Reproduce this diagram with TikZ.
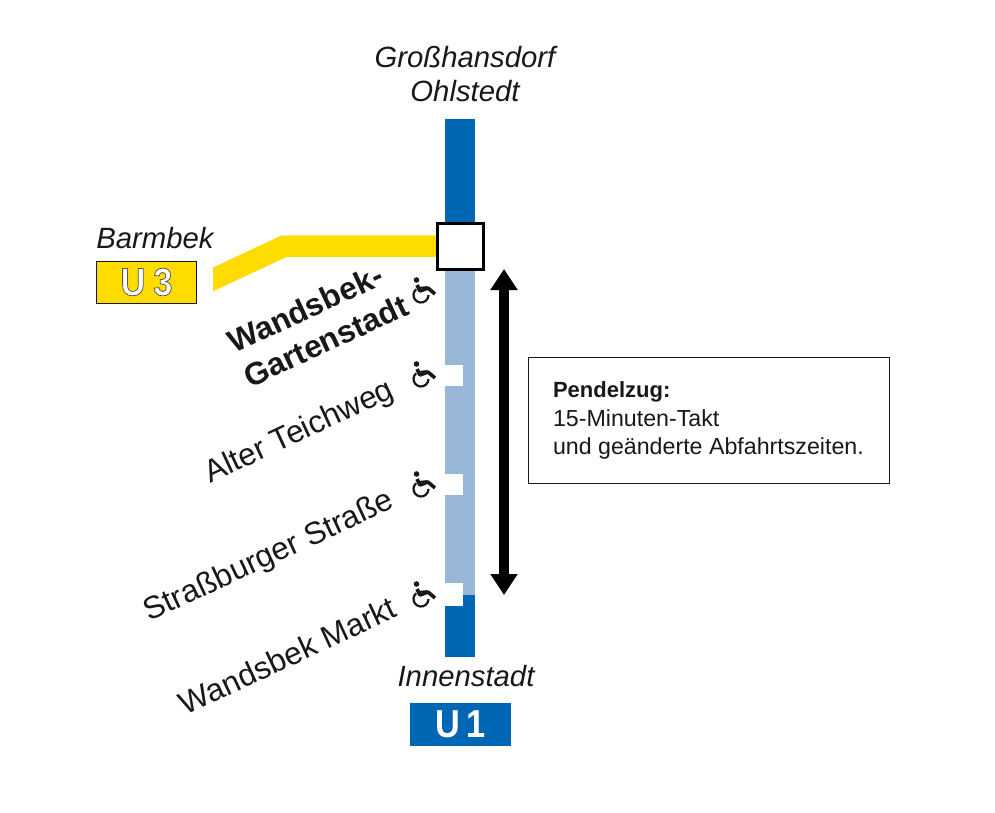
\documentclass[tikz,border=0pt]{standalone}
\usepackage{fontspec}
\usetikzlibrary{arrows.meta}
\setmainfont{Liberation Sans}
\definecolor{hvvblue}{RGB}{0,103,180}
\definecolor{palevblue}{RGB}{152,183,215}
\definecolor{hvvyellow}{RGB}{255,220,0}
\definecolor{inkblack}{RGB}{26,23,27}
\tikzset{
  wheelchair/.pic = {
    \fill[inkblack] (-8.5,-10) circle[radius=2.8];
    \draw[inkblack, line width=3.6pt, line join=round] (-8,-5) -- (-5,1) -- (3,-2) -- (10,4);
    \draw[inkblack, line width=1.8pt] (-7,-2) -- (2,-3);
    \draw[inkblack, line width=2.2pt] (-4,5) ++(230:7.5) arc[start angle=230, end angle=0, radius=7.5];
  }
}
\begin{document}
\begin{tikzpicture}[x=1pt, y=-1pt,
  terminus/.style = {font=\fontsize{29.3}{34}\selectfont\itshape, text=inkblack, align=center, inner sep=0pt},
  stationname/.style = {font=\fontsize{31.5}{38}\selectfont, text=inkblack, rotate=25, anchor=base east, inner sep=0pt, align=left},
  linebadge/.style = {font=\fontsize{39}{39}\selectfont\bfseries\addfontfeature{FakeStretch=0.88}, text=white, minimum height=43pt, inner sep=0pt}]
  \useasboundingbox (0,0) rectangle (995,812);
  % line bands
  \fill[hvvblue] (445,119) rectangle (475,657);
  \fill[palevblue] (445,246) rectangle (475,595);
  \fill[white] (445,365) rectangle (463,386);
  \fill[white] (445,474) rectangle (463,495);
  \fill[white] (445,583) rectangle (463,606);
  % U3 branch
  \coordinate (u3end) at (170,299.5);
  \coordinate (u3bend) at (284.5,246);
  \coordinate (u3join) at (460.5,246);
  \begin{scope}
    \clip (213,200) rectangle (500,320);
    \draw[hvvyellow, line width=21.5pt, miter limit=10] (u3end) -- (u3bend) -- (u3join);
  \end{scope}
  \node[draw=black, line width=3pt, fill=white, minimum size=46pt, inner sep=0pt] (interchange) at (460.5,246.5) {};
  % termini
  \node[terminus] (north) at (465,74) {Großhansdorf\\Ohlstedt};
  \node[terminus] (barmbek) at (155,238) {Barmbek};
  \node[terminus] (city) at (466,676) {Innenstadt};
  \node[linebadge, draw=inkblack, line width=0.8pt, fill=hvvyellow, minimum width=100pt, minimum height=42pt] (u3) at (146.5,282)
    {\addfontfeature{FakeBold=2}\special{pdf:code 0.35 0.35 0.3 RG}U\hspace{8pt}3};
  \node[linebadge, fill=hvvblue, minimum width=101pt] (u1) at (460.5,724.5) {U\hspace{6pt}1};
  % stations
  \node[stationname, anchor=south east, font=\fontsize{31.5}{38}\selectfont\bfseries] (st1) at (411,314) {Wandsbek-\\Gartenstadt};
  \node[stationname] (st2) at (396,397) {Alter Teichweg};
  \node[stationname] (st3) at (396,507) {Straßburger Straße};
  \node[stationname] (st4) at (399,616) {Wandsbek Markt};
  \foreach \y in {290,374,484,594}
    \pic at (425,\y) {wheelchair};
  % shuttle arrow and note
  \coordinate (arrowtop) at (504,269);
  \coordinate (arrowbottom) at (504,595);
  \draw[line width=10pt, black, {Triangle[length=21pt,width=26pt]}-{Triangle[length=21pt,width=26pt]}] (arrowtop) -- (arrowbottom);
  \node[draw=inkblack, line width=0.8pt, minimum width=361pt, minimum height=126pt, text width=312pt, inner sep=0pt,
    align=flush left, font=\fontsize{23.2}{28.5}\selectfont, text=inkblack] (note) at (709,420.5)
    {{\fontsize{22}{28.5}\selectfont\textbf{Pendelzug:}}\\15-Minuten-Takt\\und geänderte Abfahrtszeiten.};
\end{tikzpicture}
\end{document}
